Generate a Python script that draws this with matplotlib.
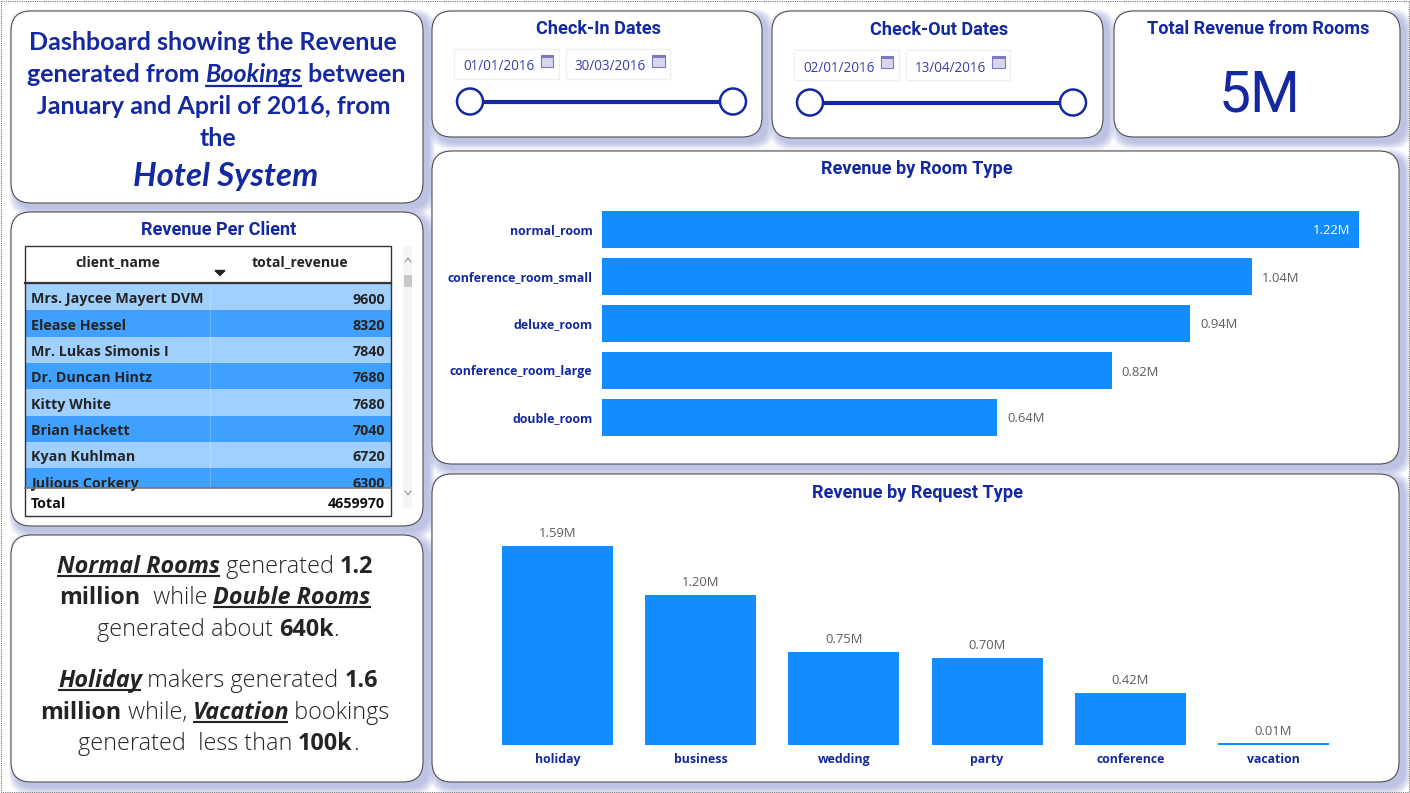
import matplotlib
matplotlib.use("Agg")
import matplotlib.pyplot as plt
from matplotlib.patches import FancyBboxPatch, Rectangle, Circle

W, H = 1410, 793
BLUE = "#1428A0"
BAR = "#118DFF"
DARK = "#252423"
GREY = "#605E5C"

room_types = ["normal_room", "conference_room_small", "deluxe_room", "conference_room_large", "double_room"]
room_revenue = [1.22, 1.048, 0.948, 0.822, 0.637]
room_labels = ["1.22M", "1.04M", "0.94M", "0.82M", "0.64M"]
request_types = ["holiday", "business", "wedding", "party", "conference", "vacation"]
request_revenue = [1.59, 1.198, 0.746, 0.695, 0.415, 0.012]
request_labels = ["1.59M", "1.20M", "0.75M", "0.70M", "0.42M", "0.01M"]
client_names = ["Mrs. Jaycee Mayert DVM", "Elease Hessel", "Mr. Lukas Simonis I", "Dr. Duncan Hintz",
                "Kitty White", "Brian Hackett", "Kyan Kuhlman", "Julious Corkery"]
client_revenue = [9600, 8320, 7840, 7680, 7680, 7040, 6720, 6300]
table_total = 4659970
checkin_dates = ["01/01/2016", "30/03/2016"]
checkout_dates = ["02/01/2016", "13/04/2016"]
total_card = "5M"

fig = plt.figure(figsize=(W / 100, H / 100), dpi=100, facecolor="white")
bg = fig.add_axes([0, 0, 1, 1])
bg.set_xlim(0, W); bg.set_ylim(H, 0); bg.axis("off")
TITLE_FONT = "Roboto"
BODY_FONT = "Open Sans"
HAND_FONT = "Lato"


def px(size):
    return size * 0.72


def panel(x0, y0, x1, y1, r=20):
    for i in range(14, 0, -2):
        bg.add_patch(FancyBboxPatch((x0 + 5 - i / 2, y0 + 5 - i / 2), x1 - x0 + i, y1 - y0 + i,
                                    boxstyle=f"round,pad=0,rounding_size={r}", fc="#6A74C4", ec="none", alpha=0.075, zorder=1))
    bg.add_patch(FancyBboxPatch((x0, y0), x1 - x0, y1 - y0, boxstyle=f"round,pad=0,rounding_size={r}",
                                fc="white", ec="#505050", lw=0.8, zorder=2))


def rich(cx, y, runs, size, color, family, z=5):
    """Centre a line made of (text, weight, style, underline) runs on cx."""
    r = fig.canvas.get_renderer()
    items = []
    for text, weight, style, ul in runs:
        t = bg.text(0, y, text, fontsize=px(size), color=color, family=family, weight=weight, style=style,
                    va="baseline", ha="left", zorder=z)
        sp = bg.text(0, y, "." + text + ".", fontsize=px(size), family=family, weight=weight, style=style)
        dot = bg.text(0, y, "..", fontsize=px(size), family=family, weight=weight, style=style)
        adv = sp.get_window_extent(r).width - dot.get_window_extent(r).width
        sp.remove(); dot.remove()
        items.append((t, adv, ul))
    x = cx - sum(i[1] for i in items) / 2
    for t, adv, ul in items:
        t.set_x(x)
        if ul:
            bg.plot([x, x + adv], [y + size * 0.14] * 2, color=color, lw=size * 0.065, zorder=z, solid_capstyle="butt")
        x += adv


N = ("light", "normal", False)
# outer dotted frame
bg.add_patch(Rectangle((1, 1), W - 2, H - 2, fc="none", ec="#777777", lw=0.8, ls=(0, (1, 1)), zorder=9))

panels = [(11, 11, 423, 203), (11, 212, 423, 526), (11, 535, 423, 782), (432, 11, 762, 137), (772, 11, 1103, 138),
          (1114, 11, 1400, 137), (432, 151, 1399, 464), (432, 474, 1399, 782)]
for p in panels:
    panel(*p)

# heading card
hb = ("bold", "normal", False)
HS = 25
rich(213, 50, [("Dashboard showing the Revenue", *hb)], HS, BLUE, HAND_FONT)
rich(216, 82, [("generated from ", *hb), ("Bookings", "bold", "italic", True), (" between", *hb)], HS, BLUE, HAND_FONT)
rich(214, 114, [("January and April of 2016, from", *hb)], HS, BLUE, HAND_FONT)
rich(218, 146, [("the", *hb)], HS, BLUE, HAND_FONT)
rich(226, 186, [("Hotel System", "bold", "italic", False)], 33, BLUE, HAND_FONT)

# titles
for cx, cy, s, sz in [(219, 230, "Revenue Per Client", 18.2), (599, 29, "Check-In Dates", 18.2), (939, 30, "Check-Out Dates", 18.2),
                      (1258, 29, "Total Revenue from Rooms", 18.2), (917, 169, "Revenue by Room Type", 18.2),
                      (917, 493, "Revenue by Request Type", 18.2)]:
    bg.text(cx, cy, s, fontsize=px(sz), color=BLUE, family=TITLE_FONT, weight="bold", ha="center", va="center", zorder=5)
bg.text(1260, 96, total_card, fontsize=px(57), color=BLUE, family=TITLE_FONT, weight="normal", ha="center", va="center", zorder=5)


def slicer(x0, ytop, dates, sy):
    for k, d in enumerate(dates):
        bx = x0 + k * 111.5
        bg.add_patch(Rectangle((bx, ytop), 104.5, 30, fc="white", ec="#F0F0F0", lw=1, zorder=3))
        bg.text(bx + 9, ytop + 18, d, fontsize=px(13.5), color="#3A3FA8", family=BODY_FONT, va="center", zorder=5)
        ix, iy = bx + 86.5, ytop + 6
        bg.add_patch(Rectangle((ix, iy), 12.5, 12, fc="#D8D6EE", ec="#7A7AC0", lw=0.8, zorder=5))
        bg.add_patch(Rectangle((ix, iy), 12.5, 2.5, fc="#7A7AC0", ec="none", zorder=6))
    l, r = x0 + 16, x0 + 279
    bg.plot([l, r], [sy, sy], color=BLUE, lw=3, zorder=4, solid_capstyle="butt")
    for c in (l, r):
        bg.add_patch(Circle((c, sy), 13, fc="white", ec=BLUE, lw=1.8, zorder=5))


slicer(454, 49, checkin_dates, 101.5)
slicer(794, 50, checkout_dates, 102.5)

# table
tx0, tx1 = 25, 391
ROW_TOP, ROW_H, ROW_END = 284, 26.3, 488
for i, (name, val) in enumerate(zip(client_names, client_revenue)):
    y0 = ROW_TOP + i * ROW_H
    y1 = min(y0 + ROW_H, ROW_END)
    bg.add_patch(Rectangle((tx0, y0), tx1 - tx0, y1 - y0, fc="#9FD0FF" if i % 2 == 0 else "#3FA0FF", ec="none", zorder=3))
    clip = Rectangle((tx0, y0), tx1 - tx0, y1 - y0, transform=bg.transData)
    t1 = bg.text(31, y0 + 15.5, name, fontsize=px(14.2), color=DARK, family=BODY_FONT, weight="bold", va="center", zorder=4)
    t2 = bg.text(385, y0 + 15.5, str(val), fontsize=px(14.2), color=DARK, family=BODY_FONT, weight="bold", va="center", ha="right", zorder=4)
    t1.set_clip_path(clip); t2.set_clip_path(clip)
bg.plot([209.5, 209.5], [ROW_TOP, ROW_END], color="white", lw=0.5, alpha=.3, zorder=3.5)
bg.add_patch(Rectangle((tx0, 246), tx1 - tx0, 270, fc="none", ec="#333333", lw=1, zorder=6))
bg.plot([tx0, tx1], [283, 283], color="#333333", lw=1.6, zorder=6)
bg.plot([tx0, tx1], [488, 488], color="#777777", lw=1.2, zorder=6)
bg.text(117.5, 262, "client_name", fontsize=px(14), color=DARK, family=BODY_FONT, weight="bold", ha="center", va="center", zorder=5)
bg.text(300, 262, "total_revenue", fontsize=px(14), color=DARK, family=BODY_FONT, weight="bold", ha="center", va="center", zorder=5)
bg.fill([215, 225, 220], [270.5, 270.5, 275.5], color="#252423", zorder=5)
bg.text(31, 503.5, "Total", fontsize=px(14.2), color="#111111", family=BODY_FONT, weight="bold", va="center", zorder=5)
bg.text(385, 503.5, str(table_total), fontsize=px(14.2), color="#111111", family=BODY_FONT, weight="bold", va="center", ha="right", zorder=5)
# scrollbar
bg.add_patch(Rectangle((403, 246), 9, 262, fc="#F5F5F5", ec="none", zorder=3))
bg.add_patch(Rectangle((403.5, 275), 8, 12, fc="#C8C8C8", ec="none", zorder=4))
bg.plot([405, 408, 411], [262, 258, 262], color="#888888", lw=.7, zorder=5)
bg.plot([405, 408, 411], [491, 495, 491], color="#888888", lw=.7, zorder=5)

# narrative
bi = ("bold", "italic", True)
b = ("bold", "normal", False)
NS = 23.4
rich(215, 573, [("Normal Rooms", *bi), (" generated ", *N), ("1.2", *b)], NS, DARK, BODY_FONT)
rich(215, 604, [("million", *b), ("  while ", *N), ("Double Rooms", *bi)], NS, DARK, BODY_FONT)
rich(218, 636, [("generated about ", *N), ("640k", *b), (".", *N)], NS, DARK, BODY_FONT)
rich(218, 687, [("Holiday", *bi), (" makers generated ", *N), ("1.6", *b)], NS, DARK, BODY_FONT)
rich(215, 719, [("million", *b), (" while, ", *N), ("Vacation", *bi), (" bookings", *N)], NS, DARK, BODY_FONT)
rich(218, 750, [("generated  less than ", *N), ("100k", *b), (".", *N)], NS, DARK, BODY_FONT)


def axes_px(x0, y0, x1, y1):
    return fig.add_axes([x0 / W, 1 - y1 / H, (x1 - x0) / W, (y1 - y0) / H], facecolor="none", zorder=10)


# bar chart: rooms
ax1 = axes_px(602, 206, 1359, 441)
ax1.barh(range(len(room_types)), room_revenue, height=0.79, color=BAR)
ax1.set_xlim(0, 1.22); ax1.set_ylim(len(room_types) - 0.5, -0.5)
ax1.set_yticks(range(len(room_types)), room_types, fontsize=px(12.4), color=BLUE, family=BODY_FONT, weight="bold")
ax1.tick_params(axis="y", length=0, pad=7)
ax1.set_xticks([])
for s in ax1.spines.values():
    s.set_visible(False)
for i, (v, lab) in enumerate(zip(room_revenue, room_labels)):
    if i == 0:
        ax1.annotate(lab, (v, i), xytext=(-6.5, 0), textcoords="offset points", ha="right", va="center_baseline",
                     fontsize=px(13), color="white", family=BODY_FONT, annotation_clip=False)
    else:
        ax1.annotate(lab, (v, i), xytext=(7, 0), textcoords="offset points", ha="left", va="center_baseline",
                     fontsize=px(13), color=GREY, family=BODY_FONT, annotation_clip=False)

# bar chart: requests
ax2 = axes_px(486, 525, 1345, 745)
ax2.bar(range(len(request_types)), request_revenue, width=0.775, color=BAR)
ax2.set_xlim(-0.5, len(request_types) - 0.5); ax2.set_ylim(0, 220 / 125.2)
ax2.set_xticks(range(len(request_types)), request_types, fontsize=px(12.4), color=BLUE, family=BODY_FONT, weight="bold")
ax2.tick_params(axis="x", length=0, pad=6)
ax2.set_yticks([])
for s in ax2.spines.values():
    s.set_visible(False)
for i, (v, lab) in enumerate(zip(request_revenue, request_labels)):
    ax2.annotate(lab, (i, v), xytext=(0, 4), textcoords="offset points", ha="center", va="bottom",
                 fontsize=px(13), color=GREY, family=BODY_FONT)

fig.savefig("out.png", dpi=100)
